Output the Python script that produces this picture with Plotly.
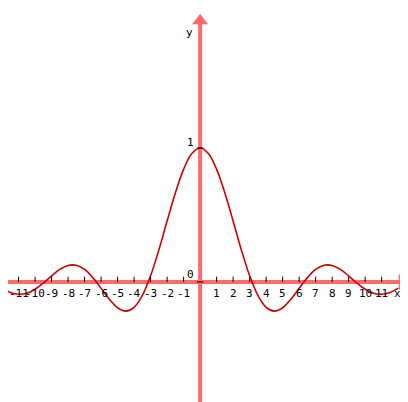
import plotly.graph_objects as go

xs = [-12,-11.5,-11,-10.5,-10,-9.5,-9,-8.5,-8,-7.5,-7,-6.5,-6,-5.5,-5,-4.5,-4,-3.5,-3,-2.5,-2,-1.5,-1,-0.5,0,
      0.5,1,1.5,2,2.5,3,3.5,4,4.5,5,5.5,6,6.5,7,7.5,8,8.5,9,9.5,10,10.5,11,11.5,12]
ys = [-0.045,-0.078,-0.091,-0.084,-0.054,-0.008,0.046,0.094,0.124,0.125,0.094,0.033,-0.047,-0.128,-0.192,-0.217,-0.189,-0.100,0.047,0.239,0.455,0.665,0.841,0.959,1.0,
      0.959,0.841,0.665,0.455,0.239,0.047,-0.100,-0.189,-0.217,-0.192,-0.128,-0.047,0.033,0.094,0.125,0.124,0.094,0.046,-0.008,-0.054,-0.084,-0.091,-0.078,-0.045]
xticks = [-12,-11,-10,-9,-8,-7,-6,-5,-4,-3,-2,-1,1,2,3,4,5,6,7,8,9,10,11]
yticks = [1,-1]

AX = '#ff6b6b'
fig = go.Figure()
fig.add_trace(go.Scatter(x=[-12.5,12.2], y=[0,0], mode='lines', line=dict(color=AX, width=4), hoverinfo='skip'))
fig.add_trace(go.Scatter(x=[0,0], y=[-1.0,1.93], mode='lines', line=dict(color=AX, width=4), hoverinfo='skip'))
fig.add_trace(go.Scatter(x=[12.25], y=[0], mode='markers', marker=dict(symbol='triangle-right', size=14, color=AX), hoverinfo='skip'))
fig.add_trace(go.Scatter(x=[0], y=[1.95], mode='markers', marker=dict(symbol='triangle-up', size=14, color=AX), hoverinfo='skip'))
fig.add_trace(go.Scatter(x=xs, y=ys, mode='lines', line=dict(color='#cc0000', width=1.6, shape='spline'), hoverinfo='skip'))

shapes = []
for t in xticks:
    shapes.append(dict(type='line', xref='x', yref='y', x0=t, x1=t, y0=0, y1=0.04, line=dict(color='black', width=1)))
for t in yticks:
    shapes.append(dict(type='line', xref='x', yref='y', x0=-0.2, x1=0.2, y0=t, y1=t, line=dict(color='black', width=1)))
shapes.append(dict(type='line', xref='x', yref='y', x0=-0.2, x1=0.2, y0=0, y1=0, line=dict(color='black', width=1)))

ann = []
f = dict(family='DejaVu Sans Mono', size=11, color='black')
for t in xticks:
    ann.append(dict(x=t, y=0, yshift=-11, text=str(t), showarrow=False, font=f, xanchor='center'))
ann.append(dict(x=-0.25, y=0, yshift=8, text='0', showarrow=False, font=f, xanchor='right'))
for t in yticks:
    ann.append(dict(x=-0.25, y=t, yshift=6, text=str(t), showarrow=False, font=f, xanchor='right'))
ann.append(dict(x=-0.3, y=1.86, text='y', showarrow=False, font=f, xanchor='right'))
ann.append(dict(x=11.95, y=0, yshift=-11, text='x', showarrow=False, font=f, xanchor='center'))

fig.update_layout(width=408, height=402, margin=dict(l=0, r=0, t=0, b=0),
                  plot_bgcolor='white', paper_bgcolor='white', showlegend=False,
                  shapes=shapes, annotations=ann,
                  xaxis=dict(range=[-11.64, 13.08], visible=False, fixedrange=True),
                  yaxis=dict(range=[-0.955, 2.045], visible=False, fixedrange=True))
fig.write_html('out.html')
